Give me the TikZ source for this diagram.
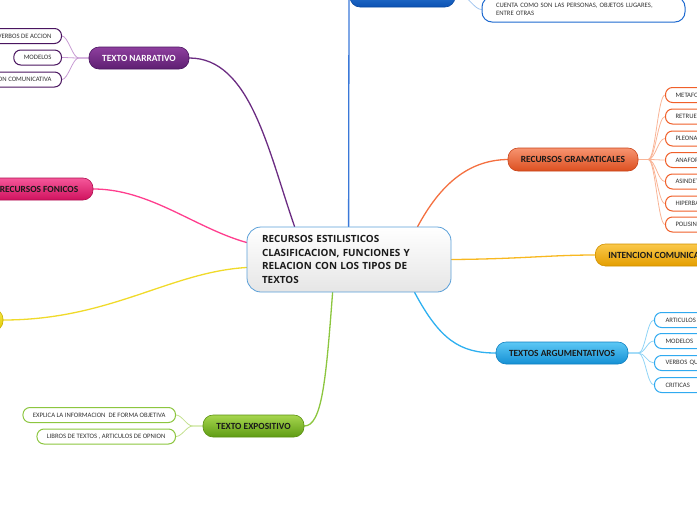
\documentclass[tikz,border=0pt]{standalone}
\usepackage{fontspec}
\setmainfont{Carlito}
\newfontfamily\osans{Open Sans}
\usetikzlibrary{calc,backgrounds}
\definecolor{txtdark}{HTML}{1A1A1A}
\definecolor{txtgray}{HTML}{333333}
\definecolor{purpT}{HTML}{8E3F9E}\definecolor{purpB}{HTML}{5E1F72}\definecolor{purpD}{HTML}{4A1560}
\definecolor{purpLine}{HTML}{6B2C82}\definecolor{purpLight}{HTML}{C79AD3}
\definecolor{pinkT}{HTML}{F5579A}\definecolor{pinkB}{HTML}{D0125E}\definecolor{pinkD}{HTML}{B00E50}\definecolor{pinkLine}{HTML}{FF3E8E}
\definecolor{yelT}{HTML}{F8E84A}\definecolor{yelB}{HTML}{E0C800}\definecolor{yelD}{HTML}{C8B000}\definecolor{yelLine}{HTML}{F0DA2A}
\definecolor{grT}{HTML}{A6D64E}\definecolor{grB}{HTML}{5F9C14}\definecolor{grD}{HTML}{5A9010}
\definecolor{grLine}{HTML}{8CC63F}\definecolor{grLight}{HTML}{C3E08E}
\definecolor{orT}{HTML}{F79470}\definecolor{orB}{HTML}{DC4F20}\definecolor{orD}{HTML}{C8441A}
\definecolor{orLine}{HTML}{F47040}\definecolor{orLight}{HTML}{F9B496}\definecolor{orSub}{HTML}{F0602A}
\definecolor{goT}{HTML}{FAC84A}\definecolor{goB}{HTML}{E49E00}\definecolor{goD}{HTML}{D09000}\definecolor{goLine}{HTML}{F8B820}
\definecolor{cyT}{HTML}{5CC8F5}\definecolor{cyB}{HTML}{1590D4}\definecolor{cyD}{HTML}{1080C0}
\definecolor{cyLine}{HTML}{2EB0F0}\definecolor{cyLight}{HTML}{90D4F6}\definecolor{cySub}{HTML}{30AAF0}
\definecolor{blT}{HTML}{3D86DC}\definecolor{blB}{HTML}{0B52B4}\definecolor{blD}{HTML}{0A48A0}
\definecolor{blLine}{HTML}{3A78D8}\definecolor{blLight}{HTML}{A0C4EE}\definecolor{blSub}{HTML}{1E6AD0}
\definecolor{centB}{HTML}{5A9FD8}
\begin{document}
\begin{tikzpicture}[x=1pt,y=-1pt,
  mainbox/.style n args={3}{rounded corners=10pt, top color=#1, bottom color=#2, draw=#3,
    line width=0.6pt, minimum height=22pt, inner xsep=0pt, inner ysep=0pt,
    font=\bfseries\fontsize{9.4}{10}\selectfont, text=txtdark},
  subbox/.style={draw=#1, fill=white, rounded corners=7pt, line width=1pt,
    minimum height=15pt, inner xsep=10pt, inner ysep=0pt,
    font=\fontsize{6.7}{8}\selectfont, text=txtgray},
  rightsub/.style={subbox=#1, anchor=west, text width=50pt, align=left},
  link/.style={draw=#1, line width=1.3pt, line cap=round},
  sublink/.style={draw=#1, line width=0.8pt, line cap=round}]
\useasboundingbox (0,0) rectangle (697,520);
\clip (0,0) rectangle (697,520);
% central topic
\node[draw=centB, line width=0.8pt, rounded corners=14pt, top color=white, bottom color=black!10,
  minimum width=204pt, minimum height=65pt, text width=174pt, align=left, inner xsep=15pt,
  font=\osans\bfseries\fontsize{9.9}{13.5}\selectfont, text=txtdark] (c) at (349,259.5)
  {RECURSOS ESTILISTICOS\\CLASIFICACION, FUNCIONES Y\\RELACION CON LOS TIPOS DE\\TEXTOS};
% top blue
\node[mainbox={blT}{blB}{blD}, minimum width=105pt] (top) at (402.5,-4) {};
\node[subbox=blSub, rounded corners=10pt, minimum height=25pt, text width=175pt, align=left,
  inner xsep=14pt] (bc) at (583.5,9.5) {CUENTA COMO SON LAS PERSONAS, OBJETOS LUGARES,\\ENTRE OTRAS};
% texto narrativo
\node[mainbox={purpT}{purpB}{purpD}, minimum width=100pt, text=white] (narr) at (139,58) {TEXTO NARRATIVO};
\node[subbox=purpD, anchor=east] (n1) at (62,36) {VERBOS DE ACCION};
\node[subbox=purpD, anchor=east] (n2) at (62,57.5) {MODELOS};
\node[subbox=purpD, anchor=east] (n3) at (62,79.5) {INTENCION COMUNICATIVA};
% recursos fonicos
\node[mainbox={pinkT}{pinkB}{pinkD}, minimum width=108pt] (fon) at (39,189) {RECURSOS FONICOS};
% yellow (left)
\node[mainbox={yelT}{yelB}{yelD}, minimum width=106pt] (yel) at (-50,320) {};
% texto expositivo
\node[mainbox={grT}{grB}{grD}, minimum width=101pt] (expo) at (253.5,426) {TEXTO EXPOSITIVO};
\node[subbox=grLine, anchor=east] (e1) at (176,415) {EXPLICA LA INFORMACION\ \ DE FORMA OBJETIVA};
\node[subbox=grLine, anchor=east] (e2) at (176,436.5) {LIBROS DE TEXTOS , ARTICULOS DE OPNION};
% recursos gramaticales
\node[mainbox={orT}{orB}{orD}, minimum width=130pt, minimum height=23pt] (gram) at (573,159.5) {RECURSOS GRAMATICALES};
\node[rightsub=orSub] (g1) at (665,95) {METAFORA};
\node[rightsub=orSub] (g2) at (665,116.5) {RETRUECANO};
\node[rightsub=orSub] (g3) at (665,138.5) {PLEONASMO};
\node[rightsub=orSub] (g4) at (665,160) {ANAFORA};
\node[rightsub=orSub] (g5) at (665,181.5) {ASINDETON};
\node[rightsub=orSub] (g6) at (665,203.5) {HIPERBATON};
\node[rightsub=orSub] (g7) at (665,224.5) {POLISINDETON};
% intencion comunicativa
\node[mainbox={goT}{goB}{goD}, anchor=west, inner xsep=13pt] (intc) at (595,255) {INTENCION COMUNICATIVA};
% textos argumentativos
\node[mainbox={cyT}{cyB}{cyD}, minimum width=132pt] (arg) at (562,353) {TEXTOS ARGUMENTATIVOS};
\node[rightsub=cySub, inner xsep=11pt] (a1) at (654,320) {ARTICULOS};
\node[rightsub=cySub, inner xsep=11pt] (a2) at (654,341) {MODELOS};
\node[rightsub=cySub, inner xsep=11pt] (a3) at (654,363) {VERBOS QUE};
\node[rightsub=cySub, inner xsep=11pt] (a4) at (654,385) {CRITICAS};
\begin{scope}[on background layer]
  % main connectors
  \draw[link=purpLine] (narr.east) .. controls (250,58) and (268,150) .. ($(c.north west)+(48,0)$);
  \draw[link=blLine] ($(c.north west)+(102,0)$) -- (349,-4);
  \draw[link=pinkLine] (fon.east) .. controls (150,189) and (195,228) .. ($(c.west)+(0,-17)$);
  \draw[link=yelLine] (yel.east) .. controls (110,320) and (170,272) .. ($(c.west)+(0,8)$);
  \draw[link=grLine] ($(c.south west)+(86,0)$) .. controls (326,380) and (322,426) .. (expo.east);
  \draw[link=orLine] ($(c.north west)+(171,0)$) .. controls (440,185) and (468,160) .. (gram.west);
  \draw[link=goLine] (c.east) .. controls (520,259) and (550,255) .. (intc.west);
  \draw[link=cyLine] ($(c.south west)+(168,0)$) .. controls (440,340) and (460,353) .. (arg.west);
  % sub connectors
  \draw[sublink=blLight] (top.east) -- ++(6,0) .. controls +(7,0) and +(-7,0) .. (bc.west);
  \foreach \k in {n1,n2,n3}
    \draw[sublink=purpLight] (narr.west) -- ++(-10,0) .. controls +(-6,0) and +(6,0) .. (\k.east);
  \foreach \k in {e1,e2}
    \draw[sublink=grLight] (expo.west) -- ++(-10,0) .. controls +(-6,0) and +(6,0) .. (\k.east);
  \foreach \k in {g1,g2,g3,g4,g5,g6,g7}
    \draw[sublink=orLight] (gram.east) -- ++(10,0) .. controls +(7,0) and +(-7,0) .. (\k.west);
  \foreach \k in {a1,a2,a3,a4}
    \draw[sublink=cyLight] (arg.east) -- ++(10,0) .. controls +(7,0) and +(-7,0) .. (\k.west);
\end{scope}
\end{tikzpicture}
\end{document}
